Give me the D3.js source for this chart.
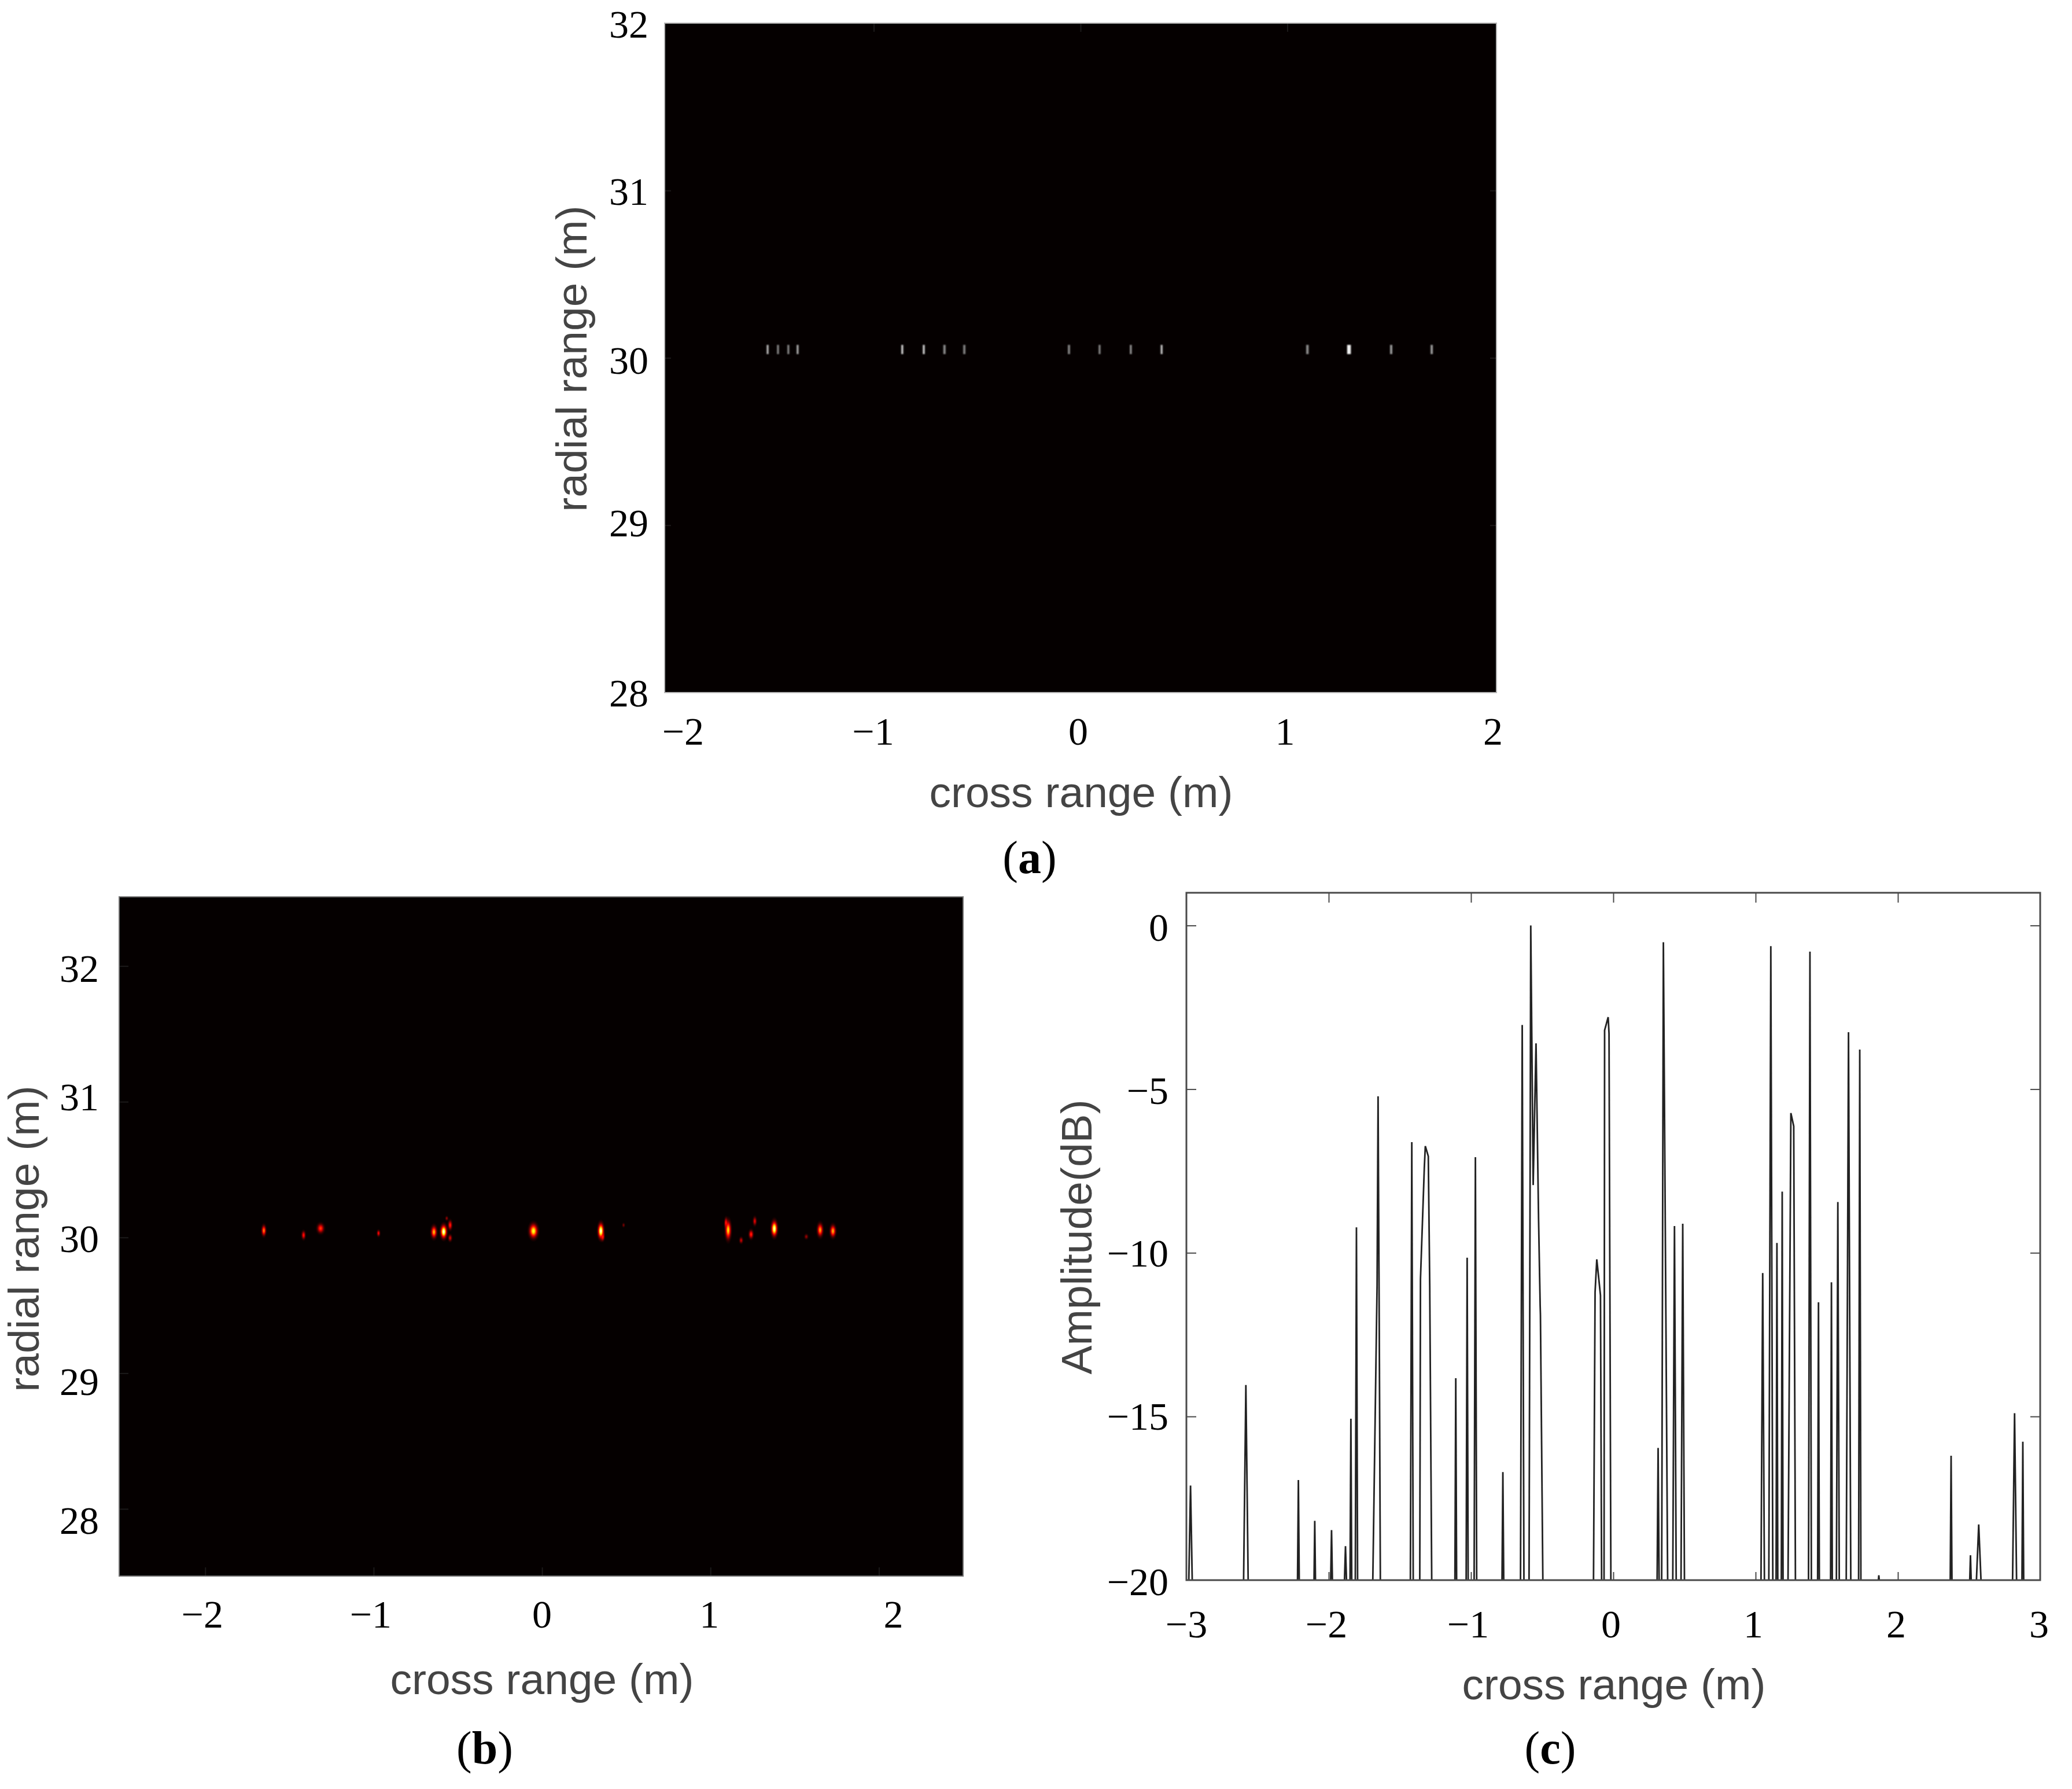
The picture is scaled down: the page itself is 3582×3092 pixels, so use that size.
<!DOCTYPE html>
<html>
<head>
<meta charset="utf-8">
<script src="https://cdn.jsdelivr.net/npm/d3@7"></script>
<style>
html, body { margin: 0; background: #fff; }
svg { display: block; }
.tick-label { font-family: "Liberation Serif", serif; font-size: 68px; fill: #000; }
.axis-title { font-family: "Liberation Sans", sans-serif; font-size: 75px; fill: #444; text-anchor: middle; }
.panel-tag { font-family: "Liberation Serif", serif; font-size: 80px; fill: #000; text-anchor: middle; }
</style>
</head>
<body>
<script>
// panel (a): range bins of the scatterers
var aX = [-1.513, -1.463, -1.413, -1.368, -0.862, -0.758, -0.658, -0.562, -0.056, 0.092, 0.243, 0.392, 1.097, 1.298, 1.502, 1.698];
var aLevel = [0.75, 0.55, 0.55, 0.7, 0.85, 0.85, 0.55, 0.5, 0.5, 0.55, 0.6, 0.8, 0.55, 0.95, 0.6, 0.6];
var aWidth = [0.009, 0.009, 0.009, 0.009, 0.009, 0.009, 0.011, 0.011, 0.011, 0.009, 0.009, 0.009, 0.012, 0.018, 0.011, 0.011];
var aRange = 30.05;
var aThick = 0.055;

// panel (b): image spots
var bX = [-1.652, -1.416, -1.315, -0.971, -0.642, -0.584, -0.546, -0.566, -0.546, -0.051, 0.349, 0.360, 0.484, 1.105, 1.092, 1.182, 1.241, 1.263, 1.379, 1.569, 1.651, 1.727];
var bY = [30.051, 30.017, 30.067, 30.031, 30.040, 30.043, 30.091, 30.141, 29.996, 30.048, 30.048, 30.006, 30.091, 30.055, 30.107, 29.979, 30.023, 30.120, 30.065, 30.006, 30.055, 30.047];
var bAmp = [0.58, 0.4, 0.46, 0.38, 0.66, 1, 0.42, 0.22, 0.32, 0.8, 0.98, 0.42, 0.18, 0.72, 0.42, 0.3, 0.44, 0.34, 0.95, 0.22, 0.62, 0.64];
var bRx = [0.02, 0.018, 0.032, 0.015, 0.026, 0.028, 0.019, 0.014, 0.018, 0.038, 0.026, 0.017, 0.013, 0.026, 0.015, 0.017, 0.021, 0.017, 0.027, 0.018, 0.026, 0.026];
var bRy = [0.06, 0.048, 0.055, 0.036, 0.068, 0.074, 0.055, 0.025, 0.04, 0.08, 0.085, 0.048, 0.025, 0.105, 0.06, 0.036, 0.05, 0.05, 0.085, 0.03, 0.074, 0.068];

// panel (c): single spikes of the cross range profile
var spikeX = [-2.971, -2.582, -2.213, -2.098, -1.98, -1.882, -1.844, -1.805, -1.416, -1.107, -1.027, -0.969, -0.776, -0.64, 0.315, 0.43, 0.488, 1.05, 1.107, 1.15, 1.187, 1.382, 1.442, 1.533, 1.578, 1.653, 1.732, 1.866, 2.374, 2.51, 2.568, 2.82, 2.878];
var spikeDb = [-17.11, -14.04, -16.94, -18.19, -18.47, -18.96, -15.07, -9.22, -6.62, -13.83, -10.15, -7.08, -16.7, -3.04, -15.96, -9.18, -9.11, -10.62, -0.63, -9.7, -8.13, -0.8, -11.51, -10.9, -8.45, -3.26, -3.79, -19.85, -16.2, -19.24, -18.3, -14.9, -15.77];
var spikeHalf = [0.012, 0.016, 0.006, 0.005, 0.006, 0.007, 0.006, 0.008, 0.01, 0.006, 0.007, 0.009, 0.006, 0.012, 0.007, 0.012, 0.012, 0.012, 0.014, 0.006, 0.006, 0.01, 0.006, 0.006, 0.01, 0.016, 0.008, 0.003, 0.006, 0.005, 0.016, 0.014, 0.006];

// wider lobes, where the outline is not a plain spike
var lobeAX = [-1.69, -1.66, -1.653, -1.645, -1.637];
var lobeADb = [-20, -11, -5.22, -12, -20];
var lobeBX = [-1.36, -1.355, -1.328, -1.321, -1.30, -1.29, -1.276];
var lobeBDb = [-20, -10.8, -7.4, -6.74, -7.05, -11, -20];
var lobeCX = [-0.592, -0.58, -0.563, -0.543, -0.525, -0.514, -0.512, -0.495];
var lobeCDb = [-20, 0, -7.93, -3.6, -9, -11.6, -11.9, -20];
var lobeDX = [-0.139, -0.128, -0.116, -0.09, -0.082];
var lobeDDb = [-20, -11.2, -10.2, -11.3, -20];
var lobeEX = [-0.065, -0.061, -0.036, -0.03, -0.017];
var lobeEDb = [-20, -3.2, -2.8, -3.3, -20];
var lobeFX = [0.34, 0.352, 0.382];
var lobeFDb = [-20, -0.51, -20];
var lobeGX = [1.228, 1.248, 1.268, 1.28];
var lobeGDb = [-20, -5.73, -6.13, -20];

// ticks and their labels
var aTicksX = [-2, -1, 0, 1, 2];
var aTicksY = [32, 31, 30, 29, 28];
var bTicksX = [-2, -1, 0, 1, 2];
var bTicksY = [32, 31, 30, 29, 28];
var cTicksX = [-3, -2, -1, 0, 1, 2, 3];
var cTicksY = [0, -5, -10, -15, -20];

var xTitle = "cross range (m)";
var yTitle = "radial range (m)";
var cTitle = "Amplitude(dB)";

var svg = d3.select("body").append("svg").attr("width", 3582).attr("height", 3092);

var defs = svg.append("defs");
defs.append("filter").attr("id", "soft").attr("x", "-100%").attr("width", "300%")
	.append("feGaussianBlur").attr("stdDeviation", 1.2);
defs.append("filter").attr("id", "softline").attr("filterUnits", "userSpaceOnUse")
	.attr("x", 2000).attr("y", 1500).attr("width", 1582).attr("height", 1300)
	.append("feGaussianBlur").attr("stdDeviation", 0.7);

function minus(v) { return String(v).replace("-", "\u2212"); }

// matlab "hot" colormap
function hot(t) {
	var r = Math.min(1, t / 0.375);
	var g = Math.max(0, Math.min(1, (t - 0.375) / 0.375));
	var b = Math.max(0, (t - 0.75) / 0.25);
	return d3.rgb(r * 255, g * 255, b * 255).formatHex();
}

function labelsX(g, scale, ticks, y, nudge) {
	g.selectAll(null).data(ticks).enter().append("text")
		.attr("class", "tick-label")
		.attr("text-anchor", "middle")
		.attr("x", function(d, i) { return scale(d) + nudge[i]; })
		.attr("y", y)
		.attr("dy", "0.33em")
		.text(minus);
}

function labelsY(g, scale, ticks, x, nudge) {
	g.selectAll(null).data(ticks).enter().append("text")
		.attr("class", "tick-label")
		.attr("text-anchor", "end")
		.attr("x", x)
		.attr("y", function(d, i) { return scale(d) + nudge[i]; })
		.attr("dy", "0.33em")
		.text(minus);
}

function innerTicks(g, axis, color, tx, ty) {
	var t = g.append("g").attr("transform", "translate(" + tx + "," + ty + ")").call(axis);
	t.select(".domain").remove();
	t.selectAll("line").attr("stroke", color).attr("stroke-width", 2);
	t.selectAll("text").remove();
}

function title(g, text, x, y, rotate) {
	g.append("text").attr("class", "axis-title")
		.attr("transform", "translate(" + x + "," + y + ")" + (rotate ? " rotate(-90)" : ""))
		.attr("dy", "0.33em")
		.text(text);
}

function tag(letter, x, y) {
	var t = svg.append("text").attr("class", "panel-tag").attr("x", x).attr("y", y).attr("dy", "0.33em");
	t.append("tspan").text("(");
	t.append("tspan").attr("font-weight", "bold").text(letter);
	t.append("tspan").text(")");
}

// ---- panel (a)
var ax = d3.scaleLinear().domain([-2.011, 2.011]).range([1149, 2587]);
var ay = d3.scaleLinear().domain([32, 28]).range([40, 1197]);
var ga = svg.append("g");
ga.append("rect").attr("x", 1149).attr("y", 40).attr("width", 1438).attr("height", 1157)
	.attr("fill", "#050000").attr("stroke", "#b5b5b5").attr("stroke-width", 2);
innerTicks(ga, d3.axisBottom(ax).tickValues(aTicksX.slice(1, 4)).tickSize(14), "#1c1a1a", 0, 41);
innerTicks(ga, d3.axisLeft(ay).tickValues(aTicksY.slice(1, 4)).tickSize(-10), "#1c1a1a", 1150, 0);
innerTicks(ga, d3.axisRight(ay).tickValues(aTicksY.slice(1, 4)).tickSize(-10), "#1c1a1a", 2586, 0);
ga.append("g").attr("filter", "url(#soft)").selectAll("rect").data(aX).enter().append("rect")
	.attr("x", function(d, i) { return ax(d - aWidth[i] / 2); })
	.attr("width", function(d, i) { return ax(aWidth[i]) - ax(0); })
	.attr("y", ay(aRange + aThick / 2))
	.attr("height", ay(aRange - aThick / 2) - ay(aRange + aThick / 2))
	.attr("fill", function(d, i) { var v = Math.round(255 * aLevel[i]); return d3.rgb(v, v, v).formatHex(); });
labelsX(ga, ax, aTicksX, 1265, [28, -1, -4, -4, -2]);
labelsY(ga, ay, aTicksY, 1121, [3, 2, 5, -3, 2]);
title(ga, xTitle, 1869, 1370, false);
title(ga, yTitle, 989, 620, true);
tag("a", 1780, 1483);

// ---- panel (b)
var bx = d3.scaleLinear().domain([-2.511, 2.5]).range([206, 1665]);
var by = d3.scaleLinear().domain([32.51, 27.505]).range([1550, 2724]);
var gb = svg.append("g");
gb.append("rect").attr("x", 206).attr("y", 1550).attr("width", 1459).attr("height", 1174)
	.attr("fill", "#050000").attr("stroke", "#777").attr("stroke-width", 2);
innerTicks(gb, d3.axisBottom(bx).tickValues(bTicksX).tickSize(-14), "#1c1a1a", 0, 2723);
innerTicks(gb, d3.axisLeft(by).tickValues(bTicksY).tickSize(-15), "#1c1a1a", 207, 0);

var spots = bX.map(function(d, i) { return { x: d, y: bY[i], amp: bAmp[i], rx: bRx[i], ry: bRy[i], id: "spot" + i }; });
var grads = defs.selectAll("radialGradient").data(spots).enter().append("radialGradient")
	.attr("id", function(d) { return d.id; });
grads.selectAll("stop").data(function(d) {
	return d3.range(0, 1.01, 0.1).map(function(r) { return { r: r, c: hot(d.amp * Math.exp(-4 * r * r)) }; });
}).enter().append("stop")
	.attr("offset", function(d) { return d.r; })
	.attr("stop-color", function(d) { return d.c; });
gb.append("g").style("isolation", "isolate").selectAll("ellipse").data(spots).enter().append("ellipse")
	.style("mix-blend-mode", "screen")
	.attr("cx", function(d) { return bx(d.x); })
	.attr("cy", function(d) { return by(d.y); })
	.attr("rx", function(d) { return bx(d.rx) - bx(0); })
	.attr("ry", function(d) { return by(0) - by(d.ry); })
	.attr("fill", function(d) { return "url(#" + d.id + ")"; });
labelsX(gb, bx, bTicksX, 2791, [-5, -5, 0, -2, 25]);
labelsY(gb, by, bTicksY, 171, [5, -8, 3, 15, 21]);
title(gb, xTitle, 937, 2903, false);
title(gb, yTitle, 42, 2141, true);
tag("b", 838, 3022);

// ---- panel (c)
var cx = d3.scaleLinear().domain([-3, 3]).range([2051, 3527]);
var cy = d3.scaleLinear().domain([-20, 1]).range([2731, 1543]);
var gc = svg.append("g");
var line = d3.line()
	.x(function(d) { return cx(d[0]); })
	.y(function(d) { return cy(d[1]); });

var traces = spikeX.map(function(d, i) {
	return [[d - spikeHalf[i], -20], [d, spikeDb[i]], [d + spikeHalf[i], -20]];
});
[[lobeAX, lobeADb], [lobeBX, lobeBDb], [lobeCX, lobeCDb], [lobeDX, lobeDDb], [lobeEX, lobeEDb], [lobeFX, lobeFDb], [lobeGX, lobeGDb]].forEach(function(l) {
	traces.push(l[0].map(function(d, i) { return [d, l[1][i]]; }));
});

var gcPlot = gc.append("g").attr("filter", "url(#softline)");
gcPlot.selectAll("path.trace").data(traces).enter().append("path")
	.attr("class", "trace")
	.attr("d", line)
	.attr("fill", "none")
	.attr("stroke", "#222")
	.attr("stroke-width", 2.8);
gcPlot.append("rect").attr("x", 2051).attr("y", 1543).attr("width", 1476).attr("height", 1188)
	.attr("fill", "none").attr("stroke", "#4a4a4a").attr("stroke-width", 3);
innerTicks(gcPlot, d3.axisBottom(cx).tickValues(cTicksX.slice(1, 6)).tickSize(17), "#4a4a4a", 0, 1543);
innerTicks(gcPlot, d3.axisTop(cx).tickValues(cTicksX.slice(1, 6)).tickSize(14), "#4a4a4a", 0, 2731);
innerTicks(gcPlot, d3.axisRight(cy).tickValues(cTicksY.slice(0, 4)).tickSize(17), "#4a4a4a", 2051, 0);
innerTicks(gcPlot, d3.axisLeft(cy).tickValues(cTicksY.slice(0, 4)).tickSize(17), "#4a4a4a", 3527, 0);
labelsX(gc, cx, cTicksX, 2808, [0, -4, -5, -4, -4, -3, -2]);
labelsY(gc, cy, cTicksY, 2020, [4, 3, 1, 0, 4]);
title(gc, xTitle, 2790, 2912, false);
title(gc, cTitle, 1862, 2138, true);
tag("c", 2680, 3022);
</script>
</body>
</html>
